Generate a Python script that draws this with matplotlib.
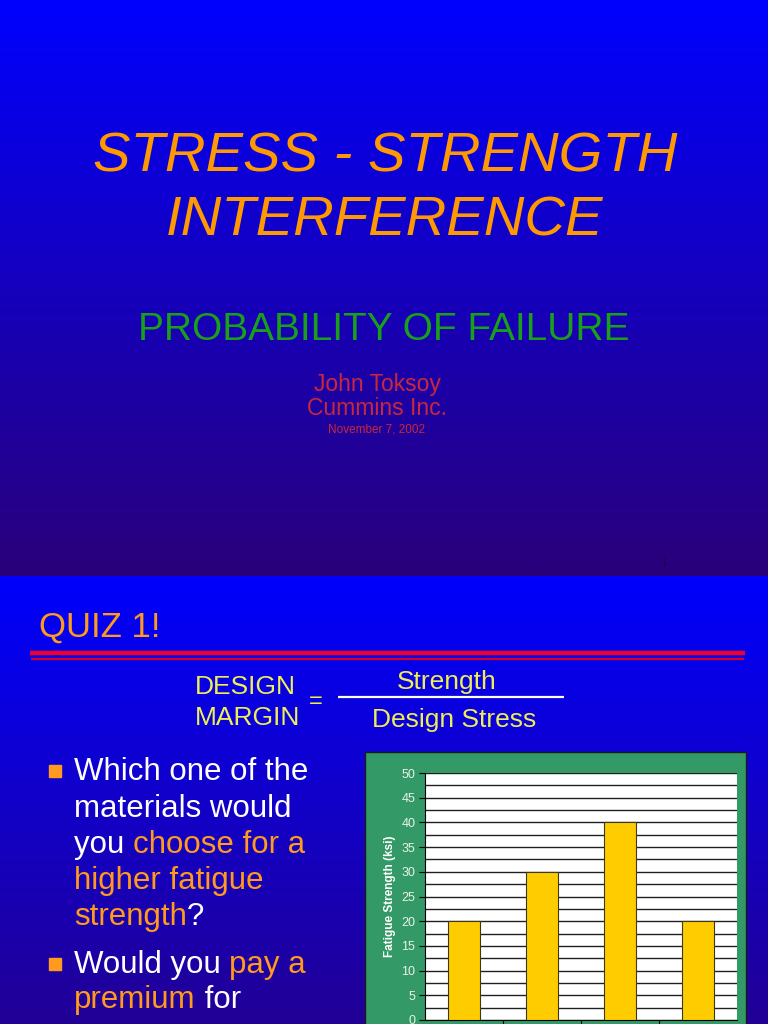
import numpy as np
import matplotlib
matplotlib.use("Agg")
import matplotlib.pyplot as plt
from matplotlib.patches import Rectangle

# ---------------- data ----------------
materials = ["A", "B", "C", "D"]
fatigue_strength = [20, 30, 40, 20]
y_ticks = [0, 5, 10, 15, 20, 25, 30, 35, 40, 45, 50]
y_label = "Fatigue Strength (ksi)"

title_lines = ["STRESS - STRENGTH", "INTERFERENCE"]
subtitle = "PROBABILITY OF FAILURE"
author = "John Toksoy"
company = "Cummins Inc."
date = "November 7, 2002"
quiz_title = "QUIZ 1!"

FONT = "Liberation Sans"
ORANGE = "#FF9A1E"
WHITE = "#FFFFFF"
YELLOW = "#EEEE55"

W, H = 768, 1024
fig = plt.figure(figsize=(W / 100, H / 100), dpi=100)
bg = fig.add_axes([0, 0, 1, 1])
bg.set_xlim(0, W)
bg.set_ylim(H, 0)
bg.axis("off")


def vgrad(y0, y1, c0, c1):
    n = 256
    t = np.linspace(0, 1, n)[:, None]
    c0 = np.array(c0) / 255.0
    c1 = np.array(c1) / 255.0
    img = (c0 + (c1 - c0) * t)[:, None, :]
    bg.imshow(img, extent=(0, W, y1, y0), aspect="auto", interpolation="bilinear", zorder=0)


vgrad(0, 576, (0, 0, 255), (42, 0, 122))
vgrad(576, 1024, (0, 0, 252), (34, 0, 150))
bg.set_xlim(0, W)
bg.set_ylim(H, 0)

# ---------------- slide 1 ----------------
bg.text(385, 172, title_lines[0], color="#FF9900", fontsize=40.5, fontstyle="italic",
        family=FONT, ha="center", va="baseline")
bg.text(385, 235, title_lines[1], color="#FF9900", fontsize=40.5, fontstyle="italic",
        family=FONT, ha="center", va="baseline")
bg.text(384, 340, subtitle, color="#19A019", fontsize=28, family=FONT,
        ha="center", va="baseline")
bg.text(377, 391, author, color="#C8283C", fontsize=16.5, family=FONT,
        ha="center", va="baseline")
bg.text(377, 415, company, color="#C8283C", fontsize=16.5, family=FONT,
        ha="center", va="baseline")
bg.text(377, 432, date, color="#C8283C", fontsize=8.5, family=FONT,
        ha="center", va="baseline")
bg.text(664, 566, "1", color="#1A0050", fontsize=7, family=FONT,
        ha="center", va="baseline")

# ---------------- slide 2 ----------------
bg.text(39, 637, quiz_title, color=ORANGE, fontsize=25, family=FONT,
        ha="left", va="baseline")
bg.plot([30, 745], [653, 653], color="#F0002A", lw=3.2, solid_capstyle="butt")
bg.plot([31, 744], [658.5, 658.5], color="#D8002A", lw=1.6, solid_capstyle="butt")

bg.text(195, 694, "DESIGN", color=YELLOW, fontsize=19, family=FONT, va="baseline")
bg.text(195, 725, "MARGIN", color=YELLOW, fontsize=19, family=FONT, va="baseline")
bg.text(316, 708, "=", color=YELLOW, fontsize=17, family=FONT, ha="center", va="baseline")
bg.text(447, 689, "Strength", color=YELLOW, fontsize=19, family=FONT, ha="center", va="baseline")
bg.plot([338, 564], [697, 697], color="white", lw=1.6, solid_capstyle="butt")
bg.text(454, 727, "Design Stress", color=YELLOW, fontsize=19, family=FONT, ha="center", va="baseline")

# bullets
BFS = 22.5


def seg_line(x, y, parts):
    t = None
    for s, c in parts:
        if t is None:
            t = bg.text(x, y, s, color=c, fontsize=BFS, family=FONT, va="baseline")
        else:
            t = bg.annotate(s, xycoords=t, xy=(1, 0), va="bottom", color=c,
                            fontsize=BFS, family=FONT)


bg.add_patch(Rectangle((49, 765), 12, 12, color=ORANGE, zorder=3))
seg_line(74, 780, [("Which one of the", WHITE)])
seg_line(74, 817, [("materials would", WHITE)])
seg_line(74, 853, [("you ", WHITE), ("choose for a", ORANGE)])
seg_line(74, 889, [("higher fatigue", ORANGE)])
seg_line(74, 925, [("strength", ORANGE), ("?", WHITE)])
bg.add_patch(Rectangle((49, 958), 12, 12, color=ORANGE, zorder=3))
seg_line(74, 973, [("Would you ", WHITE), ("pay a", ORANGE)])
seg_line(74, 1008, [("premium", ORANGE), (" for", WHITE)])

# chart box
bg.add_patch(Rectangle((365, 752), 381, 290, facecolor="#339966",
                       edgecolor="#1a1a1a", lw=1.0, zorder=2))

# ---------------- chart ----------------
left, right = 425 / W, 737 / W
top_px, bot_px = 773, 1020
ax = fig.add_axes([left, (H - bot_px) / H, right - left, (bot_px - top_px) / H])
ax.set_facecolor("white")
x = np.arange(len(materials))
ax.bar(x, fatigue_strength, width=0.4, color="#FFCC00", edgecolor="#3a3a1a", lw=0.8, zorder=3)
ax.set_xlim(-0.5, len(materials) - 0.5)
ax.set_ylim(0, 50)
ax.set_yticks(y_ticks)
ax.set_yticks(np.arange(0, 50.1, 2.5), minor=True)
ax.tick_params(axis="y", which="major", direction="out", length=4, width=0.8,
               color="black", labelcolor="#EAF2EA", labelsize=9, pad=3)
ax.tick_params(axis="y", which="minor", length=0)
for lab in ax.get_yticklabels():
    lab.set_family(FONT)
ax.grid(axis="y", which="both", color="#202020", lw=1.0, zorder=1)
ax.set_xticks([0.5, 1.5, 2.5])
ax.set_xticklabels([])
ax.tick_params(axis="x", direction="out", length=5, width=0.8, color="black")
for sp in ["top", "right"]:
    ax.spines[sp].set_visible(False)
ax.spines["left"].set_color("black")
ax.spines["bottom"].set_color("black")
ax.set_ylabel(y_label, color="white", fontsize=8.5, fontweight="bold",
              family=FONT, labelpad=4)

fig.savefig("out.png", dpi=100)
